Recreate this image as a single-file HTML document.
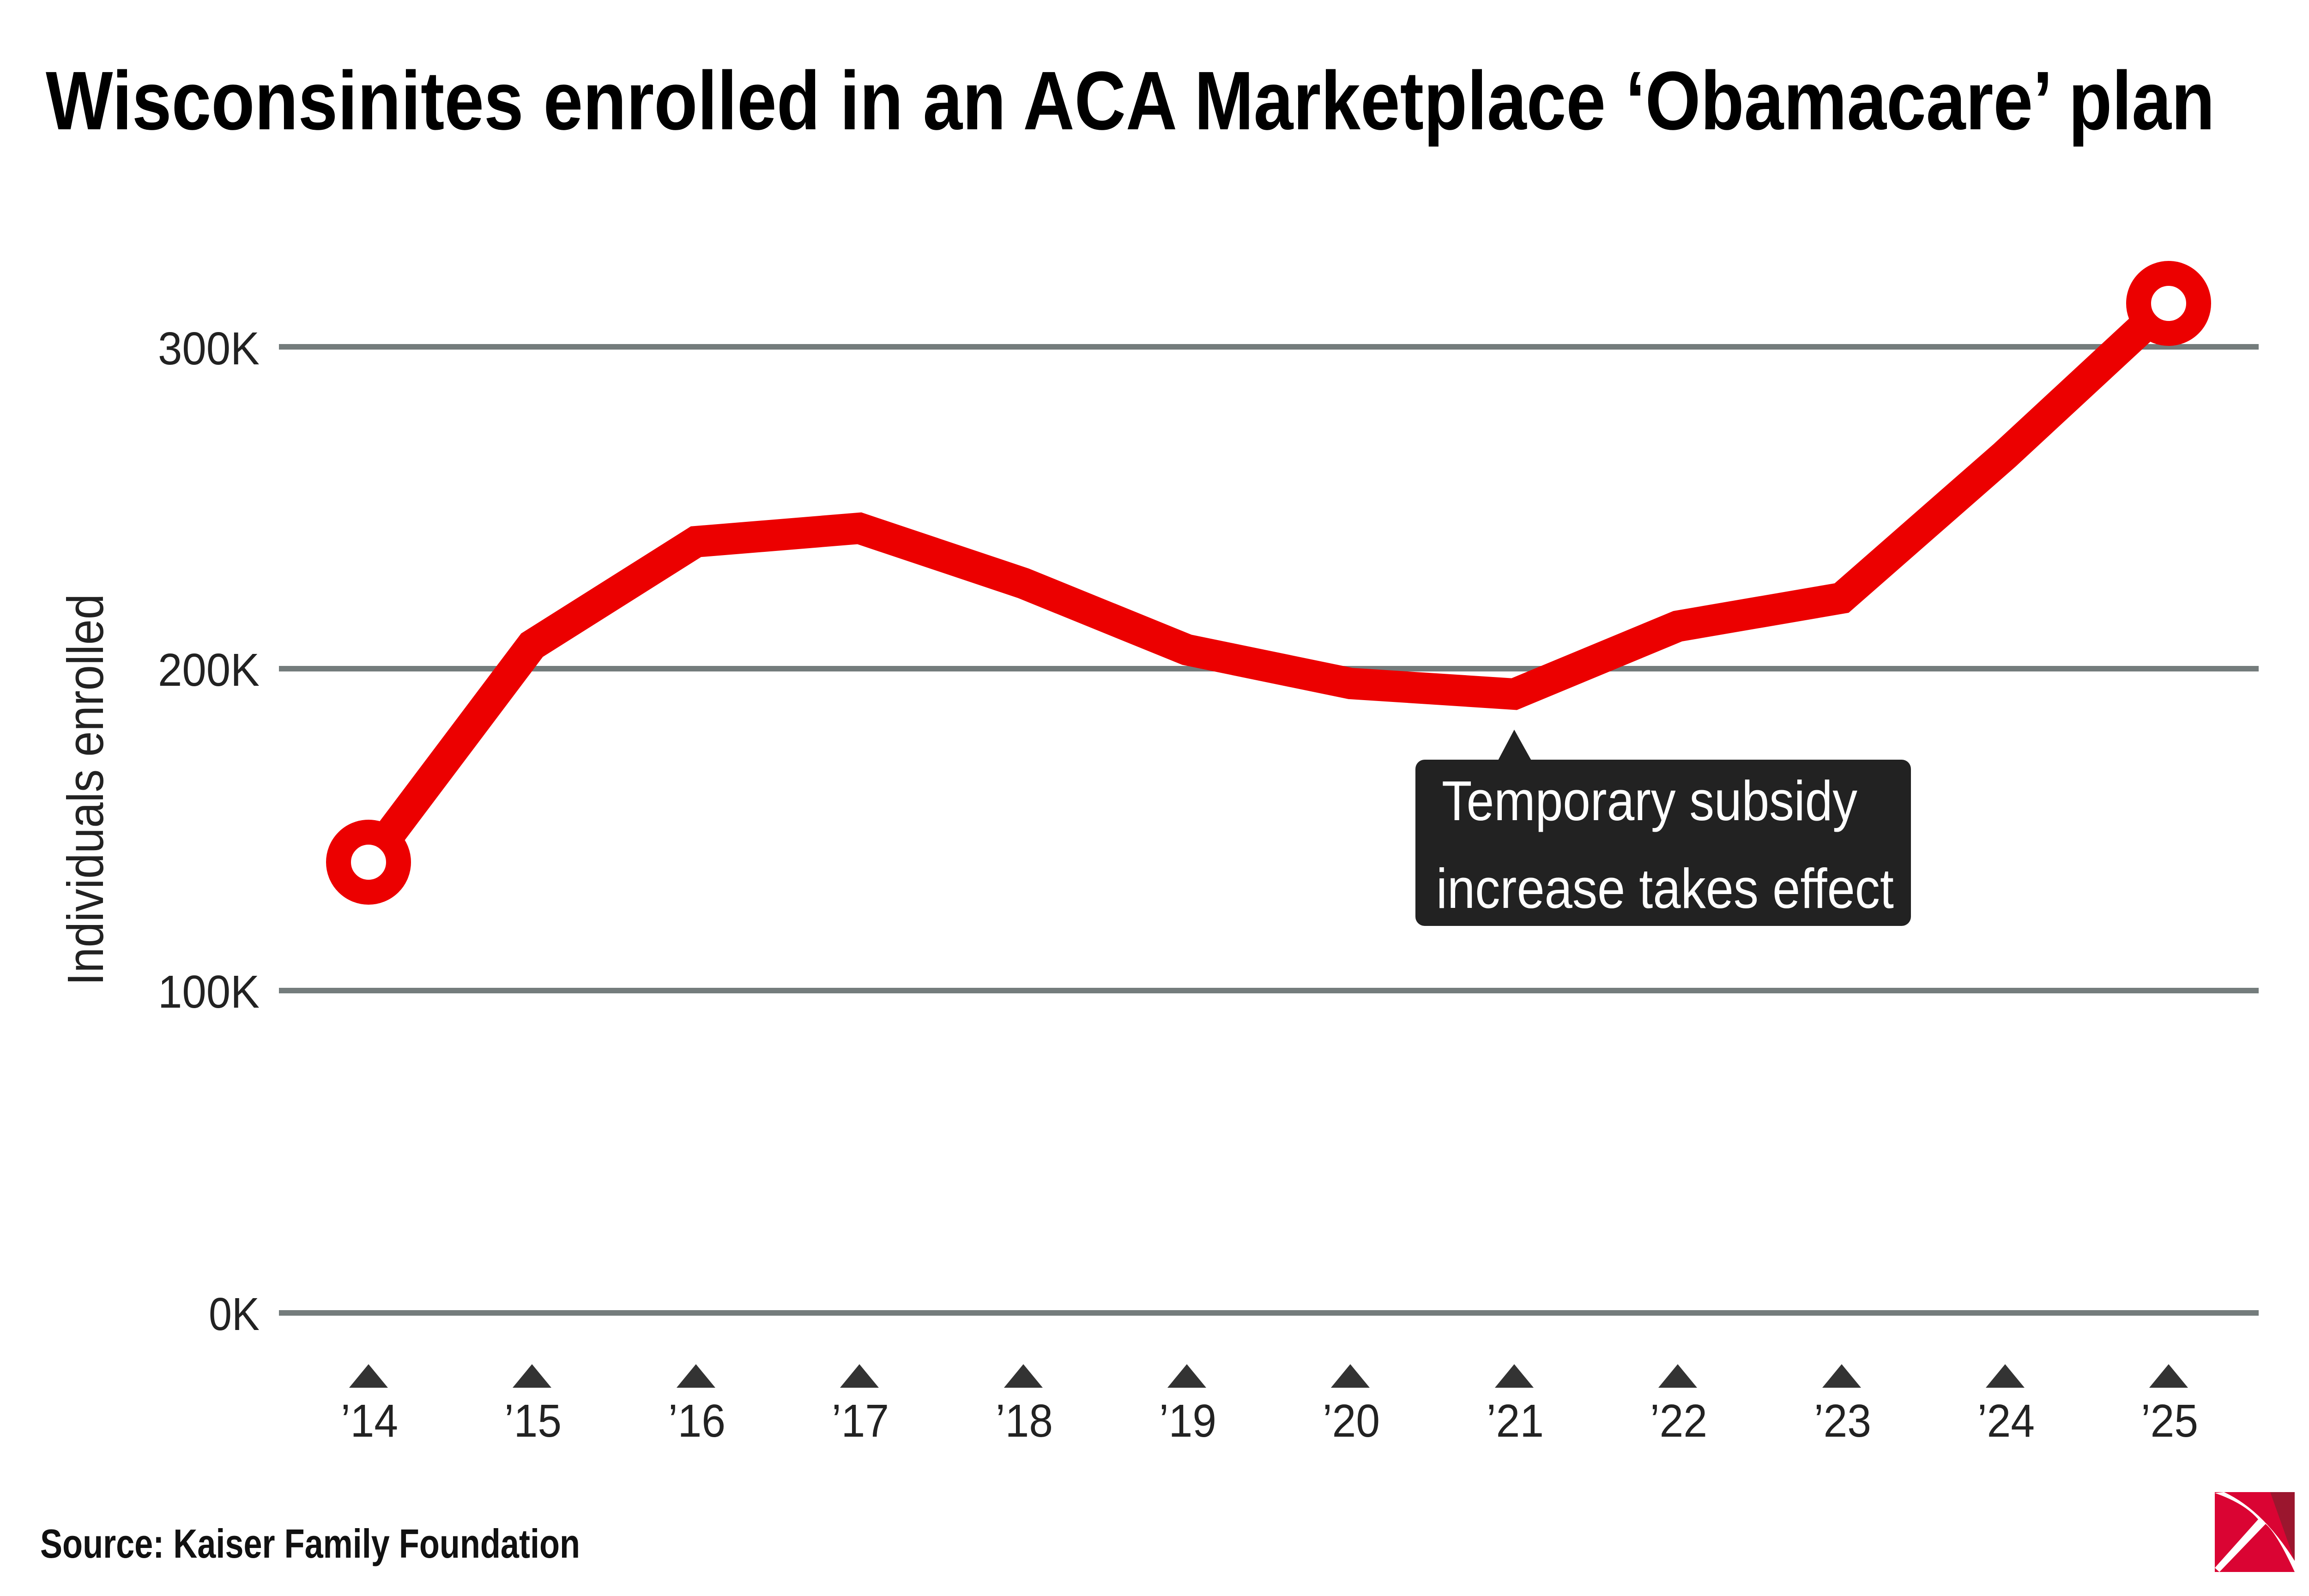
<!DOCTYPE html>
<html><head><meta charset="utf-8"><style>html,body{margin:0;padding:0;background:#fff}svg{display:block}</style></head>
<body>
<svg width="5011" height="3456" viewBox="0 0 5011 3456" xmlns="http://www.w3.org/2000/svg" font-family="'Liberation Sans Narrow','Liberation Sans',sans-serif">
<rect width="5011" height="3456" fill="#fff"/>
<text x="99" y="280" font-size="180" font-weight="bold" fill="#000" textLength="4697" lengthAdjust="spacingAndGlyphs">Wisconsinites enrolled in an ACA Marketplace ‘Obamacare’ plan</text>
<g stroke="#747c7c" stroke-width="12">
<line x1="604" y1="751" x2="4891" y2="751"/>
<line x1="604" y1="1448" x2="4891" y2="1448"/>
<line x1="604" y1="2145" x2="4891" y2="2145"/>
<line x1="604" y1="2843" x2="4891" y2="2843"/>
</g>
<g font-size="100" fill="#222" text-anchor="end">
<text x="562" y="789" textLength="220" lengthAdjust="spacingAndGlyphs">300K</text>
<text x="562" y="1485" textLength="220" lengthAdjust="spacingAndGlyphs">200K</text>
<text x="562" y="2182" textLength="220" lengthAdjust="spacingAndGlyphs">100K</text>
<text x="562" y="2880" textLength="110" lengthAdjust="spacingAndGlyphs">0K</text>
</g>
<text transform="translate(223,1710) rotate(-90)" text-anchor="middle" font-family="'Liberation Sans',sans-serif" font-size="110" fill="#222" textLength="848" lengthAdjust="spacingAndGlyphs">Individuals enrolled</text>
<polyline fill="none" stroke="#ec0000" stroke-width="68" stroke-linejoin="miter" points="798,1867 1152,1397 1507,1173 1861,1144 2216,1263 2570,1407 2924,1480 3279,1503 3633,1356 3988,1295 4342,985 4696,657"/>
<circle cx="798" cy="1867" r="65" fill="#fff" stroke="#ec0000" stroke-width="54"/>
<circle cx="4696" cy="657" r="65" fill="#fff" stroke="#ec0000" stroke-width="54"/>
<path d="M3279,1580 L3318,1650 L3242,1650 Z" fill="#222"/>
<rect x="3065" y="1645" width="1073" height="360" rx="20" fill="#222"/>
<g fill="#fff" font-size="122">
<text x="3122" y="1776" textLength="900" lengthAdjust="spacingAndGlyphs">Temporary subsidy</text>
<text x="3110" y="1966" textLength="991" lengthAdjust="spacingAndGlyphs">increase takes effect</text>
</g>
<g fill="#333">
<path d="M798,2954 l42,51 h-84 Z"/><path d="M1152,2954 l42,51 h-84 Z"/><path d="M1507,2954 l42,51 h-84 Z"/><path d="M1861,2954 l42,51 h-84 Z"/><path d="M2216,2954 l42,51 h-84 Z"/><path d="M2570,2954 l42,51 h-84 Z"/><path d="M2924,2954 l42,51 h-84 Z"/><path d="M3279,2954 l42,51 h-84 Z"/><path d="M3633,2954 l42,51 h-84 Z"/><path d="M3988,2954 l42,51 h-84 Z"/><path d="M4342,2954 l42,51 h-84 Z"/><path d="M4696,2954 l42,51 h-84 Z"/>
</g>
<g fill="#222" font-size="100" text-anchor="middle">
<text x="800" y="3111" textLength="124" lengthAdjust="spacingAndGlyphs">’14</text><text x="1154" y="3111" textLength="124" lengthAdjust="spacingAndGlyphs">’15</text><text x="1509" y="3111" textLength="124" lengthAdjust="spacingAndGlyphs">’16</text><text x="1863" y="3111" textLength="124" lengthAdjust="spacingAndGlyphs">’17</text><text x="2218" y="3111" textLength="124" lengthAdjust="spacingAndGlyphs">’18</text><text x="2572" y="3111" textLength="124" lengthAdjust="spacingAndGlyphs">’19</text><text x="2926" y="3111" textLength="124" lengthAdjust="spacingAndGlyphs">’20</text><text x="3281" y="3111" textLength="124" lengthAdjust="spacingAndGlyphs">’21</text><text x="3635" y="3111" textLength="124" lengthAdjust="spacingAndGlyphs">’22</text><text x="3990" y="3111" textLength="124" lengthAdjust="spacingAndGlyphs">’23</text><text x="4344" y="3111" textLength="124" lengthAdjust="spacingAndGlyphs">’24</text><text x="4698" y="3111" textLength="124" lengthAdjust="spacingAndGlyphs">’25</text>
</g>
<text x="87" y="3373" font-size="88" font-weight="bold" fill="#111" textLength="1169" lengthAdjust="spacingAndGlyphs">Source: Kaiser Family Foundation</text>
<g>
<rect x="4796" y="3231" width="173" height="173" fill="#da0433"/>
<path d="M4916,3231 H4969 V3380 Q4930,3270 4916,3231 Z" fill="#9b162e"/>
<path d="M4816,3231 Q4900,3270 4969,3380 L4969,3404 Q4930,3320 4906,3300 L4806,3404 L4796,3395 L4890,3290 Q4860,3255 4796,3233 Z" fill="#fff"/>
</g>
</svg>
</body></html>
